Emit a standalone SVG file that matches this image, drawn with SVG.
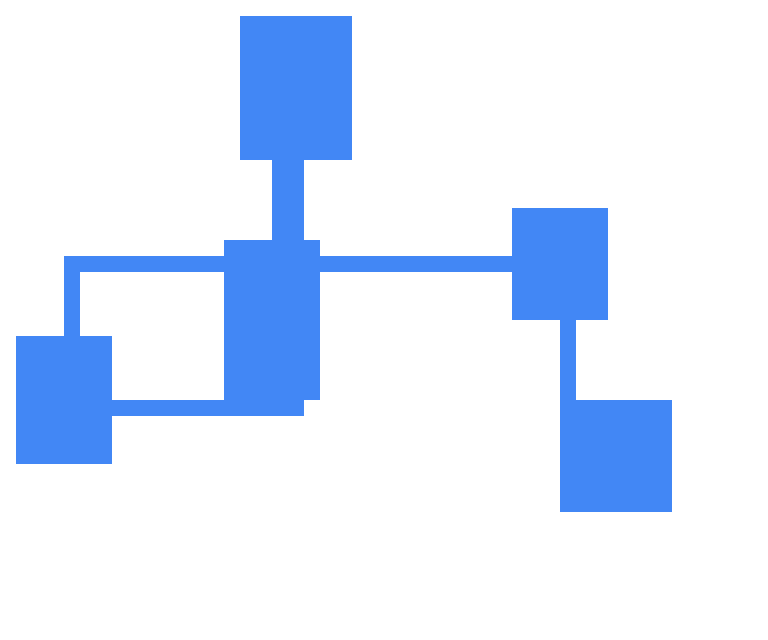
<svg xmlns="http://www.w3.org/2000/svg" width="768" height="640" viewBox="0 0 768 640">
<style>
.n{fill:#4287f5}
.c{fill:#4287f5}
</style>
<rect width="768" height="640" fill="#ffffff"/>
<g id="connectors">
<rect class="c" x="272" y="160" width="32" height="80"/>
<rect class="c" x="64" y="256" width="448" height="16"/>
<rect class="c" x="64" y="256" width="16" height="80"/>
<rect class="c" x="112" y="400" width="192" height="16"/>
<rect class="c" x="560" y="320" width="16" height="80"/>
</g>
<g id="node-top"><rect class="n" x="240" y="16" width="112" height="144"/></g>
<g id="node-center"><rect class="n" x="224" y="240" width="96" height="160"/></g>
<g id="node-left"><rect class="n" x="16" y="336" width="96" height="128"/></g>
<g id="node-right"><rect class="n" x="512" y="208" width="96" height="112"/></g>
<g id="node-bottom-right"><rect class="n" x="560" y="400" width="112" height="112"/></g>
</svg>
